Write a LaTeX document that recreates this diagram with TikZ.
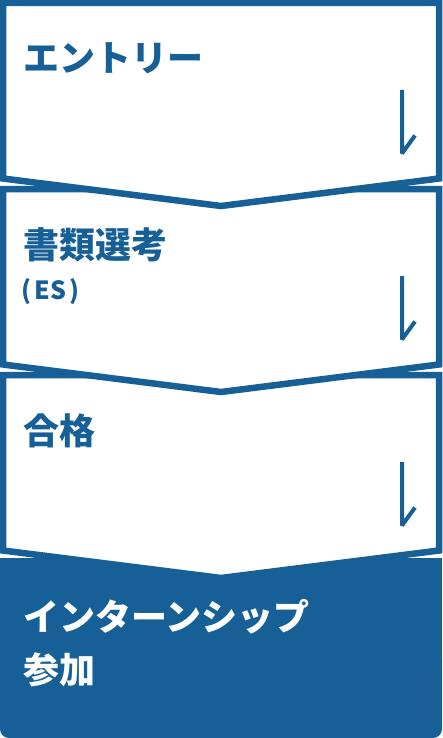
\documentclass[tikz,border=0pt]{standalone}
\usepackage{fontspec}
\setmainfont{Noto Sans CJK JP}
\definecolor{brand}{RGB}{22,96,151}
\begin{document}
\begin{tikzpicture}[x=1pt,y=-1pt,
  stepbox/.style={draw=brand, line width=6.5pt, fill=white, line join=miter, miter limit=30},
  downmark/.style={draw=brand, line width=4pt, line join=bevel},
  steplabel/.style={font=\bfseries\fontsize{36}{42}\selectfont, text=brand, anchor=base west, inner sep=0pt},
  sublabel/.style={font=\bfseries\fontsize{25}{30}\selectfont, text=brand, anchor=base west, inner sep=0pt}]
\useasboundingbox (0,0) rectangle (442,738);
% final box
\fill[brand] (0,558) rectangle (442,700);
\fill[brand, rounded corners=9pt] (0,650) rectangle (442,738);
% step boxes, drawn bottom-up
\foreach \T in {372,186,0}{
  \draw[stepbox] (3,\T+3) -- (439,\T+3) -- (439,\T+178.5) -- (221,\T+206) -- (3,\T+178.5) -- cycle;
  \draw[downmark] (402,\T+90) -- (402,\T+153.5) -- (415,\T+135.5);
}
\node[steplabel] (t1) at (23.5,72) {エントリー};
\node[steplabel] (t2) at (23.5,258) {書類選考};
\node[sublabel] (t2b) at (21.5,299) {(\kern2.5pt E\kern1pt S\kern2.5pt)};
\node[steplabel] (t3) at (23.5,444) {合格};
\node[steplabel, text=white] (t4) at (23.5,630) {インターンシップ};
\node[steplabel, text=white] (t4b) at (23.5,683) {参加};
\end{tikzpicture}
\end{document}
